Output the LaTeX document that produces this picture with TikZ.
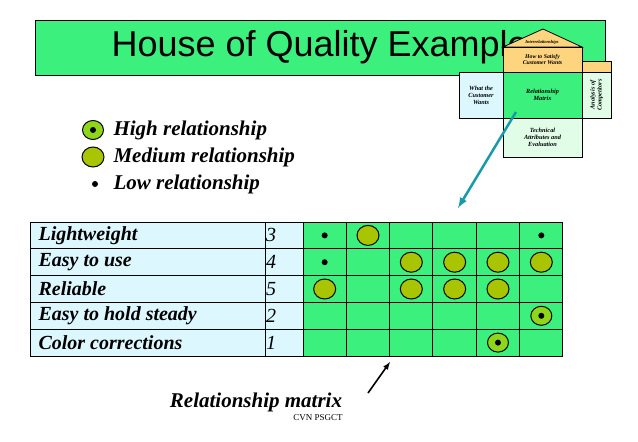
\documentclass[tikz,border=0pt]{standalone}
\usepackage{fontspec}
\setmainfont{Liberation Serif}
\setsansfont{Liberation Sans}
\usetikzlibrary{shapes.geometric}
\begin{document}
\definecolor{grn}{HTML}{3BF07C}
\definecolor{lblue}{HTML}{DDF7FF}
\definecolor{olive}{HTML}{A9C400}
\definecolor{hgrn}{HTML}{8FD61A}
\definecolor{orng}{HTML}{FFD47F}
\definecolor{teal}{HTML}{1A9AA8}
\tikzset{
  cell/.style={draw, line width=1pt},
  txt/.style={font=\fontsize{20}{22}\selectfont\bfseries\itshape, anchor=west},
  lgd/.style={font=\fontsize{21}{23}\selectfont\bfseries\itshape, anchor=west},
  hi/.style={draw, fill=hgrn, line width=1pt, minimum width=21pt, minimum height=19pt, ellipse},
  md/.style={draw, fill=olive, line width=1pt, minimum width=22pt, minimum height=20pt, ellipse},
  lo/.style={fill=black, circle, inner sep=0pt, minimum size=6pt},
  hs/.style={draw, line width=0.8pt, align=center, inner sep=1pt, font=\fontsize{6.3}{7}\selectfont\bfseries\itshape}
}
\begin{tikzpicture}[x=1pt, y=-1pt]
\useasboundingbox (0,0) rectangle (638,442);
% title
\draw[fill=grn] (35,20) rectangle (605,75);
\node[anchor=west, font=\sffamily\fontsize{36}{40}\selectfont] (title) at (108,47) {House of Quality Example};
% house
\draw[hs, fill=orng] (503,47) -- (543,29) -- (582,47) -- cycle;
\node[font=\fontsize{4.5}{5}\selectfont\bfseries\itshape, inner sep=0pt] (inter) at (542,42) {Interrelationships};
\node[hs, fill=orng, minimum width=79pt, minimum height=25pt, font=\fontsize{5.8}{6.5}\selectfont\bfseries\itshape, inner sep=0pt] (how) at (542.5,59.5) {How to Satisfy\\Customer Wants};
\draw[hs, fill=orng] (582,61) rectangle (611,72);
\node[hs, fill=lblue, minimum width=44pt, minimum height=46pt] (what) at (481,95) {What the\\Customer\\Wants};
\node[hs, fill=grn, minimum width=79pt, minimum height=46pt] (rel) at (542.5,95) {Relationship\\Matrix};
\node[hs, fill=lblue!70!green!30, minimum width=29pt, minimum height=46pt] (comp) at (596.5,95) {};
\node[rotate=90, align=center, font=\fontsize{6.3}{7}\selectfont\bfseries\itshape] at (596.5,95) {Analysis of\\Competitors};
\node[hs, fill=lblue!70!green!30, minimum width=79pt, minimum height=39pt] (tech) at (542.5,137.5) {Technical\\Attributes and\\Evaluation};
\coordinate (tip) at (458,208);
\draw[teal, line width=2.5pt, -latex] (516,112) -- (tip);
% legend
\node[hi] (lh) at (93,130) {}; \node[lo] at (lh) {};
\node[md] (lm) at (93,157) {};
\node[lo] (ll) at (95,184) {};
\node[lgd] at (110,130) {High relationship};
\node[lgd] at (110,157) {Medium relationship};
\node[lgd] at (110,184) {Low relationship};
% table
\foreach \nm/\w [count=\r] in {Lightweight/3, Easy to use/4, Reliable/5, Easy to hold steady/2, Color corrections/1}{
  \pgfmathsetmacro{\ya}{222+26.8*(\r-1)}
  \pgfmathsetmacro{\yb}{\ya+26.8}
  \draw[cell, fill=lblue] (30,\ya) rectangle (265,\yb);
  \draw[cell, fill=lblue] (265,\ya) rectangle (303,\yb);
  \node[txt] at (35,\ya/2+\yb/2) {\nm};
  \node[txt, font=\fontsize{20}{22}\selectfont\itshape, inner sep=1pt] at (265,\ya/2+\yb/2) {\w};
  \foreach \c in {1,...,6}{
    \draw[cell, fill=grn] ({303+43.33*(\c-1)},\ya) rectangle ({303+43.33*\c},\yb);
    \coordinate (m\r\c) at ({303+43.33*(\c-0.5)},\ya/2+\yb/2);
  }
}
\foreach \p in {11,16,21}{\node[lo] at (m\p) {};}
\foreach \p in {12,23,24,25,26,31,33,34,35}{\node[md] at (m\p) {};}
\foreach \p in {46,55}{\node[hi] at (m\p) {}; \node[lo] at (m\p) {};}
% bottom
\node[lgd, anchor=center] (lbl) at (256,402) {Relationship matrix};
\node[font=\fontsize{9}{10}\selectfont] (src) at (318,418) {CVN PSGCT};
\coordinate (ar) at (390,362);
\draw[line width=1.6pt, -latex] (368,393) -- (ar);
\end{tikzpicture}
\end{document}
